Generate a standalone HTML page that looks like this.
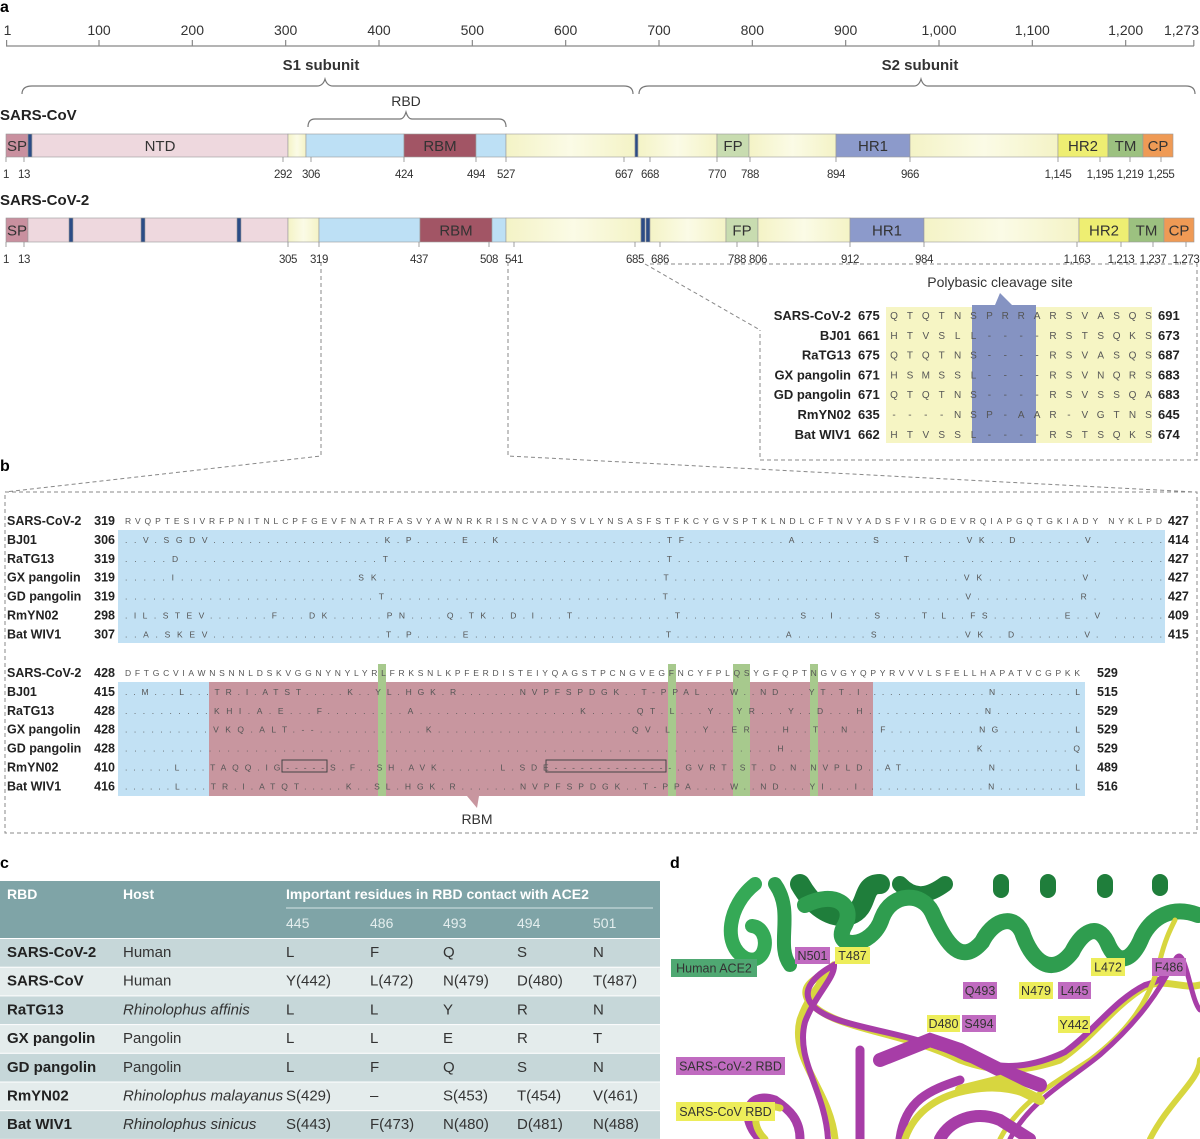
<!DOCTYPE html>
<html><head><meta charset="utf-8"><style>
html,body{margin:0;padding:0;background:#fff}
svg{display:block;font-family:"Liberation Sans",sans-serif}
.b{font-weight:bold}
</style></head><body>
<svg id="fig" width="1200" height="1139" viewBox="0 0 1200 1139" xmlns="http://www.w3.org/2000/svg">
<defs>
<linearGradient id="yel" x1="0" x2="1" y1="0" y2="0"><stop offset="0" stop-color="#f4f3c6"/><stop offset="0.5" stop-color="#fbfbe6"/><stop offset="1" stop-color="#f4f3c6"/></linearGradient>
</defs>
<g>
<text x="0" y="12" font-size="16" class="b">a</text>
<line x1="6" y1="46" x2="1194" y2="46" stroke="#888" stroke-width="1.2"/>
<g id="ruler"></g>
<path d="M22,94 Q22,86 32,86 L317,86 Q323,86 325,79 Q327,86 333,86 L624,86 Q633,86 633,94" fill="none" stroke="#777" stroke-width="1.2"/>
<text x="321" y="70" font-size="15" class="b" text-anchor="middle" fill="#333">S1 subunit</text>
<path d="M639,94 Q639,86 649,86 L914,86 Q919,86 921,79 Q923,86 928,86 L1186,86 Q1195,86 1195,94" fill="none" stroke="#777" stroke-width="1.2"/>
<text x="920" y="70" font-size="15" class="b" text-anchor="middle" fill="#333">S2 subunit</text>
<path d="M308,127 Q308,119 315,119 L400,119 Q404,119 406,112 Q408,119 412,119 L499,119 Q506,119 506,127" fill="none" stroke="#777" stroke-width="1.2"/>
<text x="406" y="106" font-size="14" text-anchor="middle" fill="#333">RBD</text>
<text x="0" y="120" font-size="15" class="b" fill="#222">SARS-CoV</text>
<text x="0" y="205" font-size="15" class="b" fill="#222">SARS-CoV-2</text>
<g id="bar1"></g>
<g id="bar2"></g>
</g>
<g fill="none" stroke="#888" stroke-dasharray="4,3" stroke-width="1">
<path d="M321,262 L321,456 L5,492"/>
<path d="M508,262 L508,456 L1195,492"/>
<path d="M645,264 L760,330"/>
<path d="M650,264 L1197,264 L1197,460 L760,460 L760,330"/>
<rect x="5" y="492" width="1192" height="341"/>
</g>
<g>
<text x="1000" y="287" font-size="14" text-anchor="middle" fill="#333">Polybasic cleavage site</text>
<rect x="886" y="307" width="266" height="136" fill="#f6f5c4"/>
<rect x="972" y="305" width="64" height="138" fill="#8593c2"/>
<path d="M995,305 L1000,293 L1012,305 Z" fill="#8593c2"/>
<g id="cleave"></g>
</g>
<g>
<text x="0" y="471" font-size="16" class="b">b</text>
<rect x="118" y="530" width="1047" height="113" fill="#c2e1f4"/>
<rect x="118" y="682" width="967" height="114" fill="#c2e1f4"/>
<rect x="209" y="682" width="664" height="114" fill="#c8969f"/>
<path d="M467,796 L477,808 L479,796 Z" fill="#c8969f"/>
<rect x="378" y="664" width="8" height="132" fill="#a7c98d"/>
<rect x="668" y="664" width="8" height="132" fill="#a7c98d"/>
<rect x="733" y="664" width="17" height="132" fill="#a7c98d"/>
<rect x="810" y="664" width="8" height="132" fill="#a7c98d"/>
<rect x="282" y="760" width="45" height="12" fill="none" stroke="#444" stroke-width="1"/>
<rect x="546" y="760" width="120" height="12" fill="none" stroke="#444" stroke-width="1"/>
<text x="477" y="824" font-size="14" text-anchor="middle" fill="#333">RBM</text>
<g id="align"></g>
</g>
<g>
<text x="0" y="868" font-size="16" class="b">c</text>
<rect x="0" y="881" width="660" height="57" fill="#7fa4a7"/>
<line x1="286" y1="908" x2="653" y2="908" stroke="#d6e3e4" stroke-width="1"/>
<text x="7" y="899" font-size="14" class="b" fill="#fff">RBD</text>
<text x="123" y="899" font-size="14" class="b" fill="#fff">Host</text>
<text x="286" y="899" font-size="14" class="b" fill="#fff">Important residues in RBD contact with ACE2</text>
<g id="table"></g>
</g>
<g>
<text x="670" y="868" font-size="16" class="b">d</text>
<g fill="none" stroke="#2f9d4f" stroke-width="14" stroke-linecap="round">
<path d="M755,884 C728,905 722,945 745,958 C768,968 772,928 752,926" stroke="#35a956"/>
<path d="M775,884 C795,912 775,945 790,965"/>
<path d="M800,884 C812,905 830,920 850,915 C870,908 860,884 880,884" stroke="#1f7e3b" stroke-width="20"/>
<path d="M900,884 C915,900 930,895 945,884" stroke="#1f7e3b" stroke-width="16"/>
<path d="M805,905 C835,890 855,905 845,925 C830,950 872,950 882,918 C892,892 922,892 932,912 C947,947 962,965 982,942 C992,922 1012,912 1022,932 C1032,962 1052,978 1072,952 C1082,932 1097,922 1107,942 C1117,967 1132,962 1142,937 C1152,917 1172,905 1198,915" stroke-width="16"/>
<path d="M1001,882 L1001,890 M1048,882 L1048,890 M1105,882 L1105,890 M1160,882 L1160,888" stroke="#1f7e3b" stroke-width="16"/>
</g>
<g fill="none" stroke-linecap="round">
<path d="M835,1139 C830,1090 790,1060 800,1020 C810,990 830,975 830,968 C815,980 800,985 808,1000 C830,1030 900,1030 960,1060 C1000,1075 1030,1070 1060,1060 C1090,1040 1110,1010 1140,990 C1160,975 1180,990 1200,985" stroke="#d7d63f" stroke-width="7"/>
<path d="M828,1139 C825,1090 795,1060 805,1022 C815,995 835,978 834,965 C815,975 800,990 812,1005 C835,1030 905,1028 965,1058 C1005,1072 1035,1066 1065,1052 C1095,1030 1115,1000 1145,985 C1165,980 1175,970 1160,960" stroke="#a73da7" stroke-width="6"/>
<path d="M860,1139 L860,1050 M900,1139 C905,1100 930,1090 960,1080 M760,1139 C740,1120 745,1090 775,1100 C790,1110 800,1120 800,1139" stroke="#a73da7" stroke-width="9"/>
<path d="M905,1139 C915,1110 940,1095 970,1090 C1000,1085 1020,1090 1040,1100 M765,1139 C750,1125 752,1100 780,1108" stroke="#d7d63f" stroke-width="7"/>
<path d="M1000,1139 C1020,1100 1060,1080 1090,1060 C1130,1030 1150,1000 1160,960 C1165,940 1170,930 1175,920" stroke="#d7d63f" stroke-width="5"/>
<path d="M1010,1139 C1030,1100 1070,1080 1100,1055 C1140,1020 1160,990 1175,960 C1185,940 1190,1000 1200,1010" stroke="#a73da7" stroke-width="5"/>
<path d="M880,1060 L930,1040 L960,1050 L1000,1070 L1040,1085" stroke="#a73da7" stroke-width="14"/>
<path d="M960,1090 L1000,1080 L1040,1100" stroke="#d7d63f" stroke-width="10"/>
<path d="M940,1139 C950,1120 975,1110 1000,1120 L1030,1139" stroke="#a73da7" stroke-width="12"/>
<path d="M1150,1139 C1170,1100 1200,1080 1200,1060" stroke="#d7d63f" stroke-width="6"/>
</g>
<g id="dlabels"></g>
</g>
</svg>
<script>
// ---- data ----
const rulerTicks = [1,100,200,300,400,500,600,700,800,900,1000,1100,1200,1273];
const rulerLabels = ["1","100","200","300","400","500","600","700","800","900","1,000","1,100","1,200","1,273"];
const bar1Segments = [[6,28,"#c9909f","SP"],[28,32,"#2b4c86",""],[32,288,"#eed8de","NTD"],[288,306,"url(#yel)",""],[306,404,"#bde0f5",""],[404,476,"#a25565","RBM"],[476,506,"#bde0f5",""],[506,635,"url(#yel)",""],[635,638,"#2b4c86",""],[638,717,"url(#yel)",""],[717,749,"#c8dcb0","FP"],[749,836,"url(#yel)",""],[836,910,"#8c9acb","HR1"],[910,1058,"url(#yel)",""],[1058,1108,"#eeee72","HR2"],[1108,1143,"#9cc180","TM"],[1143,1173,"#ef9a55","CP"]];
const bar1Labels = [[6,"1"],[24,"13"],[283,"292"],[311,"306"],[404,"424"],[476,"494"],[506,"527"],[624,"667"],[650,"668"],[717,"770"],[750,"788"],[836,"894"],[910,"966"],[1058,"1,145"],[1100,"1,195"],[1130,"1,219"],[1161,"1,255"]];
const bar2Segments = [[6,28,"#c9909f","SP"],[28,288,"#eed8de",""],[69,73,"#2b4c86",""],[141,145,"#2b4c86",""],[237,241,"#2b4c86",""],[288,319,"url(#yel)",""],[319,420,"#bde0f5",""],[420,492,"#a25565","RBM"],[492,506,"#bde0f5",""],[506,641,"url(#yel)",""],[641,645,"#2b4c86",""],[646,650,"#2b4c86",""],[650,726,"url(#yel)",""],[726,758,"#c8dcb0","FP"],[758,850,"url(#yel)",""],[850,924,"#8c9acb","HR1"],[924,1079,"url(#yel)",""],[1079,1129,"#eeee72","HR2"],[1129,1164,"#9cc180","TM"],[1164,1194,"#ef9a55","CP"]];
const bar2Labels = [[6,"1"],[24,"13"],[288,"305"],[319,"319"],[419,"437"],[489,"508"],[514,"541"],[635,"685"],[660,"686"],[737,"788"],[758,"806"],[850,"912"],[924,"984"],[1077,"1,163"],[1121,"1,213"],[1153,"1,237"],[1186,"1,273"]];
const cleaveNames = ["SARS-CoV-2","BJ01","RaTG13","GX pangolin","GD pangolin","RmYN02","Bat WIV1"];
const cleaveStart = ["675","661","675","671","671","635","662"];
const cleaveEnd = ["691","673","687","683","683","645","674"];
const cleaveSeq = ["QTQTNSPRRARSVASQS","HTVSLL----RSTSQKS","QTQTNS----RSVASQS","HSMSSL----RSVNQRS","QTQTNS----RSVSSQA","----NSP-AAR-VGTNS","HTVSSL----RSTSQKS"];
const alignNames = ["SARS-CoV-2","BJ01","RaTG13","GX pangolin","GD pangolin","RmYN02","Bat WIV1"];
const block1Start = ["319","306","319","319","319","298","307"];
const block1End = ["427","414","427","427","427","409","415"];
const block2Start = ["428","415","428","428","428","410","416"];
const block2End = ["529","515","529","529","529","489","516"];
const block1Ref = "RVQPTESIVRFPNITNLCPFGEVFNATRFASVYAWNRKRISNCVADYSVLYNSASFSTFKCYGVSPTKLNDLCFTNVYADSFVIRGDEVRQIAPGQTGKIADY  NYKLPD";
const block1Subs = ["", "2V 4S 5G 6D 7V 27K 29P 35E 38K 57T 58F 70A 79S 89V 90K 93D 101V", "5D 27T 57T 82T", "5I 25S 26K 57T 89V 90K 101V", "27T 57T 89V 101R", "1I 2L 4S 5T 6E 7V 15F 19D 20K 27P 28N 33Q 35T 36K 39D 41I 45T 57T 71S 74I 79S 84T 86L 89F 90S 99E 102V", "2A 4S 5K 6E 7V 27T 29P 35E 57T 70A 79S 89V 90K 93D 101V"];
const block2Ref = "DFTGCVIAWNSNNLDSKVGGNYNYLYRLFRKSNLKPFERDISTEIYQAGSTPCNGVEGFNCYFPLQSYGFQPTNGVGYQPYRVVVLSFELLHAPATVCGPKK";
const block2Subs = ["", "2M 6L 10T 11R 13I 15A 16T 17S 18T 24K 27Y 28L 30H 31G 32K 34R 42N 43V 44P 45F 46S 47P 48D 49G 50K 53T 54- 55P 56P 57A 58L 62W 65N 66D 70Y 71T 73T 75I 91N 101L", "10K 11H 12I 14A 16E 20F 30A 49K 55Q 56T 58L 62Y 65Y 66R 70Y 73D 77H 91N", "10V 11K 12Q 14A 15L 16T 18- 19- 32K 55Q 56V 58L 62Y 65E 66R 70H 73T 76N 80F 91N 92G 101L", "70H 91K 101Q", "6L 10T 11A 12Q 13Q 15I 16G 17- 18- 19- 20- 21- 22S 24F 27S 28H 30A 31V 32K 40L 42S 43D 44E 45- 46- 47- 48- 49- 50- 51- 52- 53- 54- 55- 56- 57- 58- 60G 61V 62R 63T 65S 66T 68D 70N 72N 73V 74P 75L 76D 79A 80T 91N 101L", "6L 10T 11R 13I 15A 16T 17Q 18T 24K 27S 28L 30H 31G 32K 34R 42N 43V 44P 45F 46S 47P 48D 49G 50K 53T 54- 55P 56P 57A 62W 65N 66D 70Y 71I 75I 91N 101L"];
const tableRbd = ["SARS-CoV-2","SARS-CoV","RaTG13","GX pangolin","GD pangolin","RmYN02","Bat WIV1"];
const tableHost = ["Human","Human","Rhinolophus affinis","Pangolin","Pangolin","Rhinolophus malayanus","Rhinolophus sinicus"];
const tablePositions = ["445","486","493","494","501"];
const tableResidues = [["L","F","Q","S","N"],["Y(442)","L(472)","N(479)","D(480)","T(487)"],["L","L","Y","R","N"],["L","L","E","R","T"],["L","F","Q","S","N"],["S(429)","–","S(453)","T(454)","V(461)"],["S(443)","F(473)","N(480)","D(481)","N(488)"]];
const dLabelText = ["Human ACE2","N501","T487","L472","F486","Q493","N479","L445","D480","S494","Y442","SARS-CoV-2 RBD","SARS-CoV RBD"];
const dLabelColor = ["#4fa872","#c06bc0","#eded5a","#eded5a","#c06bc0","#c06bc0","#eded5a","#c06bc0","#eded5a","#c06bc0","#eded5a","#c06bc0","#eded5a"];
const dLabelBox = [[671,959,86,18],[795,947,35,17],[835,947,35,17],[1091,958,34,18],[1152,958,34,18],[963,982,34,17],[1019,982,34,17],[1058,982,33,17],[927,1015,33,17],[962,1015,34,17],[1058,1016,32,17],[676,1057,109,18],[676,1102,99,19]];

const NS = "http://www.w3.org/2000/svg";
function el(tag, attrs, parent, txt){const e=document.createElementNS(NS,tag);for(const k in attrs)e.setAttribute(k,attrs[k]);if(txt!==undefined)e.textContent=txt;parent.appendChild(e);return e;}
const xR = v => 6.6 + (v-1)*(1193.8-6.6)/1272;

const rg=document.getElementById('ruler');
rulerTicks.forEach((t,i)=>{
  const l=el('line',{x1:xR(t),x2:xR(t),y1:40,y2:46,stroke:'#888','stroke-width':1.2},rg);
  
  
  const anchor = i===0?'start':(i===rulerTicks.length-1?'end':'middle');
  const tx=el('text',{x:i===0?xR(t)-3:(i===rulerTicks.length-1?1199:xR(t)),y:35,'font-size':14,'text-anchor':anchor,fill:'#333'},rg,rulerLabels[i]);
  
  
});

function drawBar(g, segs, labels, y, h, ly){
  segs.forEach(s=>{
    const r=el('rect',{x:s[0],y:y,width:s[1]-s[0],height:h,fill:s[2],stroke:'#999','stroke-width':0.6},g);
    
    
  });
  segs.forEach(s=>{ if(s[3]){
    const t=el('text',{x:(s[0]+s[1])/2,y:y+h/2+5.5,'font-size':15,'text-anchor':'middle',fill:'#333'},g,s[3]);
    
    
  }});
  labels.forEach(l=>{
    const tk=el('line',{x1:l[0],x2:l[0],y1:y+h,y2:y+h+5,stroke:'#888','stroke-width':0.8},g);
    
    
    const t=el('text',{x:l[0],y:ly,'font-size':11.5,'letter-spacing':'-0.4','text-anchor':'middle',fill:'#333'},g,l[1]);
    
    
  });
}
drawBar(document.getElementById('bar1'),bar1Segments,bar1Labels,134,23,178);
drawBar(document.getElementById('bar2'),bar2Segments,bar2Labels,218,24,263);

const cg=document.getElementById('cleave');
cleaveNames.forEach((n,i)=>{
  const y=320+i*19.8;
  const a=el('text',{x:851,y:y,'font-size':13,'text-anchor':'end',class:'b',fill:'#222'},cg,n);
  
  
  const b=el('text',{x:858,y:y,'font-size':13,class:'b',fill:'#222'},cg,cleaveStart[i]);
  
  
  for(let j=0;j<cleaveSeq[i].length;j++){
    const c=el('text',{x:894+j*15.9,y:y-1,'font-size':10,'text-anchor':'middle',fill:'#555'},cg,cleaveSeq[i][j]);
    
    
  }
  const e=el('text',{x:1158,y:y,'font-size':13,class:'b',fill:'#222'},cg,cleaveEnd[i]);
  
  
});

function mkRow(ref, subs, isRef){
  if(isRef) return ref;
  const arr = ref.split('').map(c=>c===' '?' ':'.');
  subs.split(' ').filter(Boolean).forEach(s=>{const m=s.match(/^(\d+)(.)$/); if(m) arr[+m[1]]=m[2];});
  return arr.join('');
}
const ag=document.getElementById('align');
function drawBlock(ref, subs, starts, ends, y0, x1, endX){
  alignNames.forEach((n,i)=>{
    const y=y0+i*18.9;
    const a=el('text',{x:7,y:y,'font-size':12.5,class:'b',fill:'#222'},ag,n);
    
    
    const b=el('text',{x:115,y:y,'font-size':12.5,class:'b','text-anchor':'end',fill:'#222'},ag,starts[i]);
    
    
    const s=mkRow(ref, subs[i], i===0);
    const t=el('text',{x:125,y:y-1,'font-size':8.5,fill:'#555',textLength:x1-125,lengthAdjust:'spacing','xml:space':'preserve'},ag,s);
    
    
    const e=el('text',{x:endX,y:y,'font-size':12.5,class:'b',fill:'#222'},ag,ends[i]);
    
    
  });
}
drawBlock(block1Ref, block1Subs, block1Start, block1End, 525, 1162, 1168);
drawBlock(block2Ref, block2Subs, block2Start, block2End, 677, 1080, 1097);

const tg=document.getElementById('table');
const colX=[286,370,443,517,593];
tablePositions.forEach((p,i)=>{
  const t=el('text',{x:colX[i],y:928,'font-size':14,fill:'#e4eeee'},tg,p);
  
  
});
tableRbd.forEach((r,i)=>{
  const y=938+i*28.7;
  const bg=el('rect',{x:0,y:y+1,width:660,height:27.7,fill:i%2===0?'#c6d7d9':'#e4ecec'},tg);
  
  
  const a=el('text',{x:7,y:y+19,'font-size':15,class:'b',fill:'#222'},tg,r);
  
  
  const h=el('text',{x:123,y:y+19,'font-size':15,fill:'#333','font-style':/Rhino/.test(tableHost[i])?'italic':'normal'},tg,tableHost[i]);
  
  
  tableResidues[i].forEach((v,j)=>{
    const c=el('text',{x:colX[j],y:y+19,'font-size':15,fill:'#333'},tg,v);
    
    
  });
});

const dg=document.getElementById('dlabels');
dLabelText.forEach((t,i)=>{
  const b=dLabelBox[i];
  const r=el('rect',{x:b[0],y:b[1],width:b[2],height:b[3],fill:dLabelColor[i]},dg);
  
  
  const tx=el('text',{x:b[0]+b[2]/2,y:b[1]+b[3]/2+4.5,'font-size':12.5,'text-anchor':'middle',fill:'#333'},dg,t);
  
  
});
</script>
</body></html>
